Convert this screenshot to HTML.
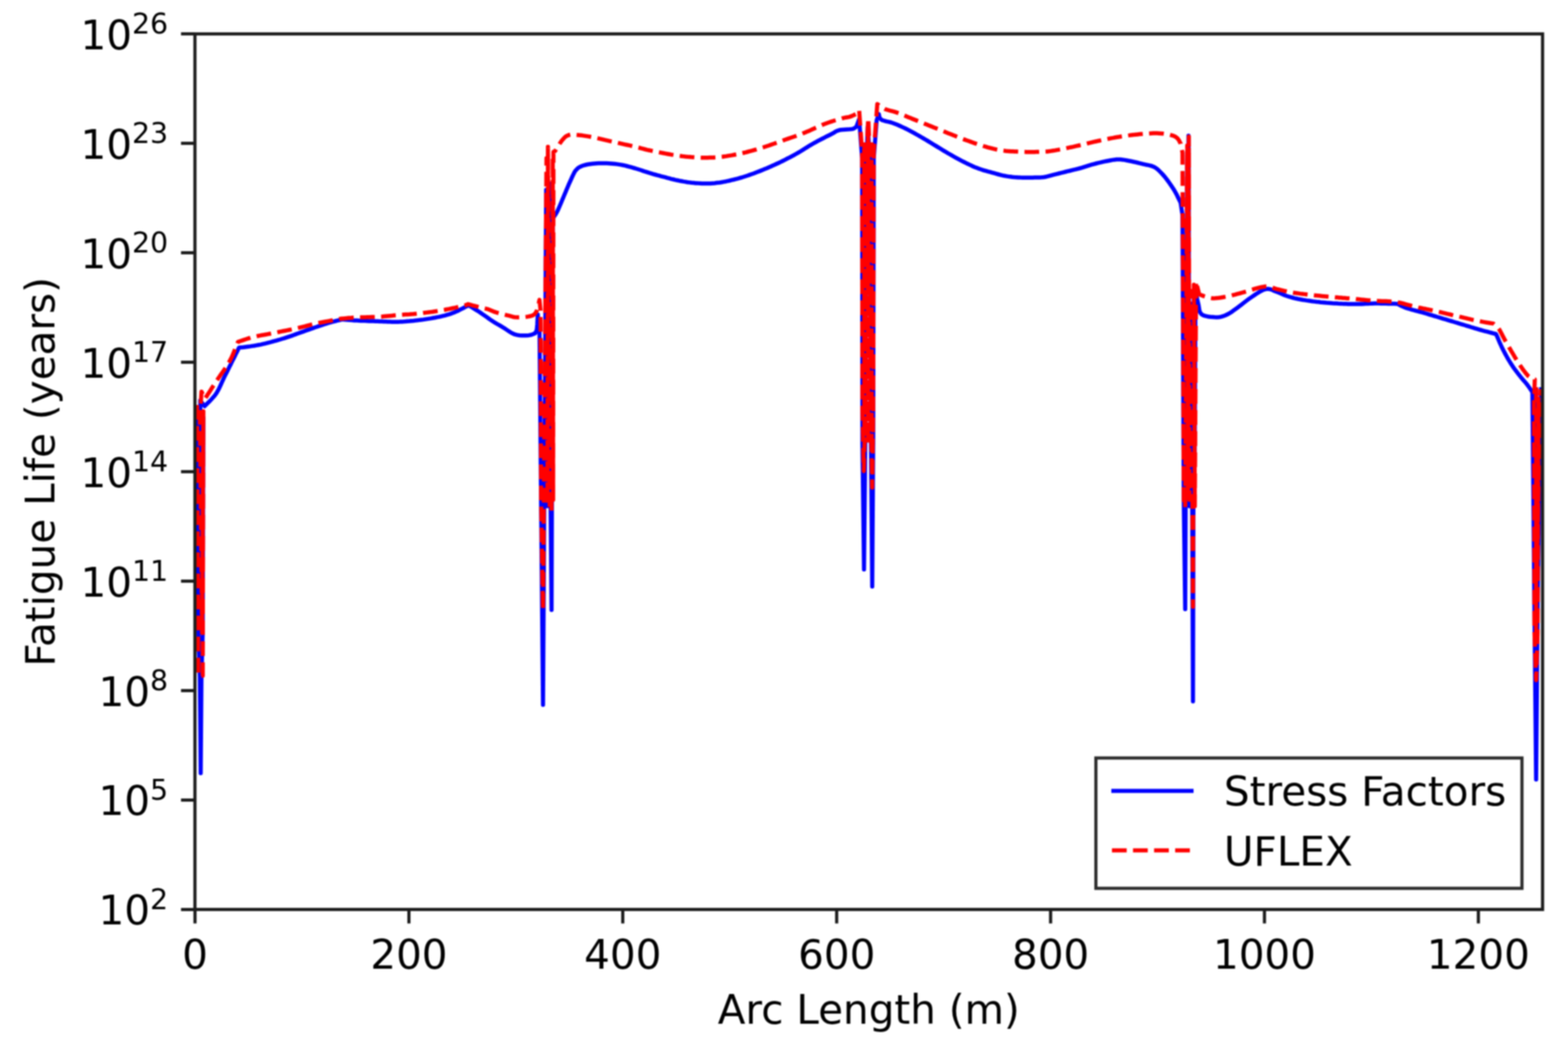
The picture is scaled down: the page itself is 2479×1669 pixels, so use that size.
<!DOCTYPE html>
<html><head><meta charset="utf-8"><title>Fatigue Life vs Arc Length</title>
<style>html,body{margin:0;padding:0;background:#fff;overflow:hidden}svg{display:block;filter:blur(1px)}</style>
</head><body>
<svg width="2479" height="1669" viewBox="0 0 2479 1669"><rect x="0" y="0" width="2479" height="1669" fill="#fff"/>
<defs><clipPath id="c"><rect x="308.2" y="53.6" width="2130.6000000000004" height="1383.8000000000002"/></clipPath></defs>
<g clip-path="url(#c)" fill="none" stroke-linejoin="round">
<polyline points="311.5,645.0 313.5,1000.0 316.0,1070.0 317.3,1222.0 318.5,1070.0 320.5,1000.0 321.5,660.0 319.0,1000.0 316.6,633.0 323.5,642.0 324.9,640.5 326.8,638.6 329.1,636.4 331.7,633.9 334.3,631.1 336.9,628.2 339.4,625.3 341.5,622.4 343.2,619.7 344.8,616.9 346.3,614.0 347.8,610.9 349.2,607.8 350.6,604.7 352.0,601.7 353.3,598.7 354.7,595.9 356.2,592.8 357.7,589.9 359.2,587.0 360.6,584.1 362.0,581.3 363.4,578.4 364.9,575.6 366.3,572.7 367.8,569.6 369.5,566.4 371.2,563.0 372.8,559.7 374.4,556.5 375.8,553.7 377.0,551.3 377.9,549.5 379.8,549.3 382.4,549.1 385.6,548.7 389.1,548.3 392.9,547.8 395.7,547.4 398.6,546.9 401.7,546.5 405.0,545.9 408.4,545.3 412.1,544.6 416.0,543.7 418.6,543.1 421.4,542.4 424.3,541.6 427.3,540.9 430.4,540.0 433.5,539.2 436.7,538.3 439.9,537.4 443.0,536.5 446.1,535.5 449.2,534.6 452.2,533.6 455.2,532.6 458.3,531.6 461.3,530.6 464.3,529.5 467.3,528.4 470.3,527.3 473.3,526.2 476.4,525.1 479.4,524.1 482.4,523.0 485.4,521.9 488.5,520.9 491.7,519.7 494.8,518.6 497.9,517.5 501.1,516.5 504.1,515.4 507.1,514.4 510.1,513.4 512.9,512.5 515.6,511.6 519.3,510.5 523.1,509.4 526.7,508.4 530.3,507.5 533.5,506.7 536.5,506.0 538.9,505.4 540.8,504.9 542.8,505.1 545.5,505.3 548.6,505.5 552.2,505.8 556.1,506.1 560.2,506.4 564.4,506.6 567.2,506.7 570.2,506.9 573.4,507.0 576.7,507.1 580.1,507.2 583.6,507.4 587.0,507.5 590.4,507.6 593.7,507.7 597.0,507.8 600.0,507.9 603.5,508.0 606.9,508.2 610.1,508.3 613.2,508.5 616.3,508.6 619.5,508.7 622.6,508.8 625.9,508.8 629.3,508.7 632.2,508.6 635.1,508.4 638.1,508.3 641.2,508.1 644.2,507.8 647.3,507.6 650.4,507.3 653.6,507.0 656.7,506.6 659.7,506.3 662.8,505.9 665.9,505.5 669.0,505.1 672.2,504.6 675.5,504.1 678.7,503.6 681.8,503.1 684.9,502.5 688.0,502.0 690.9,501.4 693.7,500.9 696.3,500.3 700.1,499.4 703.5,498.6 706.6,497.7 709.6,496.8 712.6,495.9 715.5,494.8 718.6,493.6 721.5,492.3 724.7,490.9 727.9,489.2 731.1,487.6 734.2,486.0 736.9,484.5 739.2,483.3 740.9,482.4 742.6,483.5 745.0,485.0 747.8,486.7 750.9,488.7 754.1,490.7 757.2,492.6 760.0,494.5 762.6,496.3 765.2,498.1 767.8,499.9 770.3,501.7 772.8,503.5 775.4,505.3 777.9,507.0 780.9,508.9 783.8,510.7 786.8,512.5 789.8,514.2 792.7,515.9 795.7,517.7 798.7,519.6 801.7,521.6 804.6,523.6 807.6,525.5 810.6,527.1 813.6,528.4 817.3,529.4 821.0,530.0 824.7,530.2 828.2,530.2 831.4,530.2 836.0,529.9 839.8,529.2 843.0,528.0 846.3,526.5 848.4,522.1 848.8,519.7 849.1,516.6 849.4,513.0 849.6,509.2 849.8,505.5 850.0,502.0 850.1,499.2 850.2,497.1 853.0,525.0 855.5,800.0 858.5,1114.0 863.5,300.0 865.5,800.0 869.5,290.0 870.5,800.0 872.0,964.0 874.0,345.4 875.2,343.7 876.8,341.3 878.8,338.2 881.0,334.2 882.2,331.8 883.4,329.0 884.7,326.0 886.1,322.7 887.5,319.4 888.9,316.1 890.3,312.8 891.6,309.6 892.9,306.5 894.3,303.3 895.6,300.0 897.0,296.8 898.3,293.7 899.6,290.6 900.9,287.8 902.1,285.1 903.6,281.8 905.0,278.7 906.4,275.9 907.7,273.3 909.0,270.9 910.5,268.9 913.4,265.9 916.4,263.9 920.2,262.3 923.0,261.3 926.1,260.5 929.5,259.8 933.2,259.2 937.0,258.7 939.9,258.4 943.0,258.2 946.2,258.1 949.5,258.0 952.8,258.0 956.1,258.0 959.3,258.1 962.5,258.2 965.7,258.4 968.9,258.7 972.0,259.0 975.2,259.4 978.4,259.9 981.6,260.4 984.8,261.0 988.0,261.7 991.2,262.5 994.4,263.3 997.6,264.2 1000.8,265.1 1004.0,266.0 1007.2,267.0 1010.4,268.0 1013.6,269.0 1016.7,270.1 1019.9,271.2 1023.1,272.2 1026.3,273.2 1029.5,274.1 1032.7,275.1 1035.9,276.0 1039.0,276.8 1042.2,277.7 1045.4,278.6 1048.6,279.4 1051.8,280.2 1055.0,281.1 1058.2,281.9 1061.4,282.8 1064.6,283.5 1067.8,284.3 1071.0,285.0 1074.2,285.7 1077.4,286.3 1080.6,286.9 1083.7,287.4 1086.9,288.0 1090.1,288.4 1093.3,288.8 1096.6,289.1 1099.9,289.4 1103.3,289.6 1106.6,289.7 1109.8,289.9 1112.8,289.9 1115.6,290.0 1119.7,290.0 1123.1,289.9 1126.3,289.7 1130.0,289.4 1132.7,289.1 1135.3,288.8 1138.1,288.5 1141.1,288.0 1144.3,287.4 1147.9,286.7 1150.6,286.1 1153.4,285.5 1156.5,284.7 1159.6,284.0 1162.9,283.1 1166.1,282.3 1169.4,281.4 1172.6,280.5 1175.8,279.5 1178.9,278.5 1182.0,277.5 1185.1,276.4 1188.2,275.3 1191.3,274.2 1194.4,273.0 1197.5,271.8 1200.6,270.6 1203.7,269.4 1206.5,268.3 1209.3,267.1 1212.1,266.0 1214.9,264.8 1217.7,263.6 1220.4,262.3 1223.2,261.1 1226.0,259.8 1228.8,258.5 1231.6,257.2 1234.4,255.9 1237.2,254.5 1240.0,253.1 1242.8,251.7 1245.5,250.2 1248.3,248.8 1251.1,247.3 1253.9,245.8 1256.7,244.3 1259.5,242.7 1262.3,241.1 1265.1,239.5 1267.9,237.8 1270.7,236.0 1273.4,234.3 1276.2,232.6 1279.0,230.8 1281.8,229.1 1284.6,227.5 1287.4,225.9 1290.3,224.3 1293.3,222.7 1296.3,221.1 1299.4,219.5 1302.5,218.0 1305.4,216.4 1308.2,215.0 1310.9,213.7 1313.3,212.5 1315.4,211.4 1319.1,209.3 1321.3,207.8 1323.3,206.8 1326.5,205.8 1329.2,205.3 1332.5,205.0 1336.1,204.7 1339.8,204.5 1343.3,204.3 1346.4,204.0 1348.8,203.6 1353.0,201.2 1354.4,199.1 1358.3,188.3 1363.0,250.0 1363.5,700.0 1366.0,900.0 1368.0,700.0 1370.0,250.0 1372.0,200.0 1375.0,250.0 1377.0,700.0 1379.0,927.0 1380.5,700.0 1381.4,250.0 1386.0,190.0 1389.4,180.3 1389.9,182.7 1390.7,186.1 1393.3,189.1 1395.6,190.2 1398.4,191.0 1401.6,191.8 1405.2,192.6 1408.8,193.5 1412.3,194.7 1414.9,195.7 1417.7,196.8 1420.5,198.0 1423.3,199.3 1426.2,200.6 1429.0,201.9 1431.9,203.3 1434.7,204.7 1437.5,206.1 1440.3,207.6 1443.1,209.1 1445.9,210.6 1448.6,212.2 1451.4,213.8 1454.2,215.4 1457.0,217.0 1459.8,218.6 1462.6,220.3 1465.4,221.9 1468.2,223.6 1470.9,225.3 1473.7,227.0 1476.5,228.7 1479.3,230.4 1482.1,232.1 1484.9,233.8 1487.7,235.5 1490.4,237.2 1493.2,238.9 1496.0,240.5 1498.8,242.2 1501.6,243.8 1504.4,245.4 1507.2,247.0 1510.0,248.6 1512.8,250.1 1515.6,251.6 1518.4,253.1 1521.2,254.6 1524.0,256.0 1526.8,257.4 1529.6,258.8 1532.4,260.1 1535.2,261.4 1537.9,262.7 1540.7,263.9 1543.5,265.0 1546.3,266.1 1549.5,267.2 1552.7,268.3 1555.9,269.3 1559.0,270.2 1562.2,271.1 1565.4,271.9 1568.6,272.8 1571.8,273.7 1575.0,274.6 1578.2,275.5 1581.3,276.3 1584.5,277.1 1587.7,277.8 1590.9,278.4 1594.1,278.9 1597.3,279.3 1600.5,279.7 1603.7,280.0 1606.9,280.2 1610.1,280.4 1613.3,280.6 1616.6,280.7 1619.9,280.8 1623.3,280.8 1626.6,280.8 1629.8,280.7 1632.8,280.7 1635.6,280.6 1639.8,280.5 1643.4,280.5 1646.7,280.3 1650.0,280.0 1653.0,279.5 1655.6,278.9 1658.6,278.1 1662.3,277.1 1665.0,276.4 1668.0,275.7 1671.2,274.9 1674.6,274.0 1678.0,273.2 1681.4,272.3 1684.7,271.5 1687.9,270.7 1691.1,270.0 1694.3,269.2 1697.4,268.4 1700.6,267.7 1703.8,266.8 1707.0,266.0 1710.2,265.1 1713.4,264.1 1716.6,263.1 1719.7,262.1 1722.9,261.1 1726.1,260.2 1729.3,259.3 1732.5,258.5 1735.8,257.6 1739.1,256.9 1742.4,256.1 1745.6,255.4 1748.7,254.8 1751.6,254.2 1755.3,253.5 1758.7,252.9 1762.0,252.4 1765.1,252.1 1768.4,252.0 1771.7,252.1 1774.8,252.4 1778.0,252.9 1781.4,253.5 1785.1,254.2 1788.0,254.8 1791.2,255.5 1794.6,256.2 1797.9,257.0 1801.3,257.8 1804.5,258.6 1807.4,259.3 1811.2,260.2 1814.8,260.9 1818.1,261.6 1821.3,262.5 1824.2,263.7 1827.4,265.5 1830.2,267.6 1832.7,270.0 1835.4,272.7 1837.6,275.0 1839.8,277.5 1842.1,280.2 1844.3,283.0 1846.5,286.0 1848.4,288.6 1850.3,291.3 1852.2,294.1 1854.1,297.0 1856.0,299.9 1857.7,302.8 1859.4,305.9 1861.2,309.3 1862.8,312.8 1864.4,316.0 1865.7,318.7 1866.6,320.7 1869.5,340.0 1871.5,790.0 1873.8,962.8 1877.0,240.0 1878.0,790.0 1879.0,214.5 1880.5,800.0 1883.5,480.0 1886.1,1108.4 1887.5,470.0 1888.5,800.0 1890.0,470.0 1891.3,465.2 1891.7,467.2 1892.2,470.0 1892.9,473.4 1893.7,476.8 1894.5,480.2 1895.2,483.6 1895.7,487.4 1896.4,491.1 1897.7,494.4 1900.0,497.0 1902.5,498.4 1905.6,499.4 1909.2,500.2 1913.0,500.8 1916.8,501.1 1920.3,501.3 1923.5,501.4 1927.3,501.2 1930.7,500.6 1933.8,499.7 1937.0,498.5 1940.2,497.0 1942.9,495.6 1945.6,494.0 1948.3,492.2 1951.0,490.2 1953.9,488.1 1957.0,485.8 1959.2,484.2 1961.6,482.4 1964.0,480.5 1966.5,478.5 1969.1,476.5 1971.7,474.5 1974.2,472.6 1976.8,470.8 1979.3,469.1 1982.1,467.2 1985.0,465.3 1987.9,463.4 1990.8,461.6 1993.6,460.0 1996.4,458.6 1999.1,457.5 2001.6,456.8 2005.3,456.6 2008.7,457.3 2012.0,458.5 2015.1,460.0 2018.4,461.3 2021.7,462.5 2024.8,463.9 2028.0,465.3 2031.4,466.7 2035.1,468.0 2037.9,468.9 2040.7,469.7 2043.7,470.5 2046.8,471.3 2050.0,472.0 2053.6,472.8 2057.4,473.5 2060.0,474.0 2062.8,474.4 2065.8,474.9 2068.8,475.3 2071.9,475.7 2075.1,476.2 2078.3,476.6 2081.5,477.0 2084.8,477.3 2087.9,477.7 2091.0,478.0 2094.1,478.3 2097.2,478.6 2100.3,478.8 2103.5,479.0 2106.6,479.3 2109.8,479.5 2112.8,479.6 2115.9,479.8 2118.8,479.9 2121.7,480.1 2124.4,480.2 2128.0,480.3 2131.4,480.4 2134.7,480.5 2137.8,480.5 2140.9,480.6 2143.9,480.6 2147.0,480.5 2150.0,480.5 2153.4,480.4 2156.5,480.3 2159.6,480.1 2162.7,479.9 2166.0,479.8 2169.5,479.7 2173.5,479.6 2176.4,479.6 2179.7,479.6 2183.3,479.7 2187.1,479.7 2190.9,479.8 2194.7,479.9 2198.3,480.0 2201.7,480.0 2204.7,480.1 2207.2,480.2 2209.2,480.2 2211.0,481.1 2213.3,482.3 2216.2,483.8 2219.7,485.4 2223.7,486.9 2226.2,487.7 2228.9,488.5 2231.8,489.3 2234.9,490.2 2238.1,491.0 2241.4,491.9 2244.8,492.8 2248.2,493.7 2251.6,494.7 2254.4,495.5 2257.4,496.4 2260.3,497.3 2263.4,498.2 2266.4,499.1 2269.6,500.0 2272.7,501.0 2275.8,501.9 2278.9,502.8 2282.0,503.8 2285.1,504.7 2288.2,505.6 2291.3,506.6 2294.5,507.5 2297.8,508.5 2301.0,509.5 2304.1,510.4 2307.2,511.4 2310.3,512.3 2313.2,513.2 2316.0,514.0 2318.6,514.8 2322.4,515.9 2325.7,517.0 2328.8,517.9 2331.8,518.8 2334.7,519.7 2337.7,520.6 2340.9,521.5 2344.0,522.4 2347.4,523.3 2351.0,524.2 2354.5,525.2 2357.8,526.0 2360.9,526.8 2363.4,527.5 2365.3,528.0 2366.1,529.8 2367.1,532.1 2368.3,534.9 2369.6,538.1 2371.0,541.4 2372.5,544.7 2374.0,548.0 2375.5,551.0 2377.0,553.9 2378.5,556.9 2380.1,559.9 2381.7,562.8 2383.4,565.8 2385.0,568.6 2386.7,571.4 2388.3,574.0 2390.1,576.8 2391.9,579.5 2393.7,582.1 2395.6,584.6 2397.4,587.0 2399.2,589.4 2401.0,591.8 2403.2,594.5 2405.4,597.2 2407.6,599.8 2409.8,602.3 2411.9,604.7 2413.8,607.1 2416.0,610.0 2418.1,613.0 2420.0,615.8 2421.6,618.2 2422.7,619.9 2425.3,900.0 2428.6,1232.0 2431.5,900.0 2433.0,640.0 2431.0,950.0 2436.5,612.0" stroke="#0000ff" stroke-width="6.5" stroke-linecap="butt"/>
<polyline points="2428.6,612.0 2428.6,1100.0" stroke="#0000ff" stroke-width="6.5" stroke-linecap="butt"/>
<polyline points="1366.5,240.0 1366.5,740.0" stroke="#0000ff" stroke-width="6.5" stroke-linecap="butt"/>
<polyline points="1378.2,240.0 1378.2,760.0" stroke="#0000ff" stroke-width="6.5" stroke-linecap="butt"/>
<polyline points="311.5,640.0 313.5,1068.0 320.5,1068.0 321.5,650.0 319.5,1000.0 316.0,660.0 318.6,619.0 324.1,630.2 325.1,628.6 326.4,626.7 327.9,624.3 329.6,621.7 331.4,618.9 333.3,615.9 335.3,612.8 337.3,609.7 339.3,606.7 341.3,603.7 343.1,600.9 344.9,598.2 346.8,595.5 348.6,592.8 350.5,590.1 352.5,587.4 354.4,584.7 356.2,581.9 358.0,579.2 359.8,576.5 361.4,573.7 363.0,571.0 364.5,568.1 366.0,565.1 367.5,561.9 368.9,558.6 370.2,555.4 371.5,552.3 372.7,549.3 373.8,546.6 374.8,544.1 375.6,542.0 376.3,540.4 378.0,539.8 380.2,539.0 382.9,538.1 385.8,537.1 389.1,536.0 392.5,534.9 396.0,533.8 399.5,532.9 402.1,532.3 404.9,531.6 407.8,531.0 410.8,530.4 413.9,529.8 417.0,529.3 420.1,528.7 423.3,528.1 426.4,527.5 429.5,526.9 432.6,526.3 435.6,525.7 438.6,525.1 441.6,524.5 444.7,523.9 447.7,523.3 450.7,522.7 453.7,522.1 456.7,521.5 459.8,520.9 462.8,520.3 465.8,519.6 468.9,518.9 472.0,518.2 475.3,517.4 478.5,516.6 481.7,515.8 484.9,515.0 488.0,514.2 491.0,513.4 493.9,512.7 496.6,512.1 499.0,511.5 502.8,510.6 505.9,510.0 508.6,509.5 511.1,509.0 513.8,508.5 517.0,507.9 519.9,507.4 523.1,506.8 526.5,506.1 530.0,505.5 533.4,504.9 536.4,504.3 538.9,503.8 540.8,503.5 542.6,503.4 544.9,503.2 547.7,502.9 550.8,502.6 554.3,502.4 558.2,502.1 562.3,501.9 564.9,501.8 567.7,501.7 570.8,501.6 574.0,501.5 577.3,501.4 580.7,501.3 584.1,501.2 587.5,501.1 590.8,501.0 594.0,500.9 597.1,500.8 600.0,500.6 603.6,500.4 607.0,500.1 610.2,499.8 613.4,499.5 616.5,499.2 619.5,498.9 622.7,498.6 625.9,498.3 629.3,498.0 632.2,497.8 635.1,497.5 638.1,497.3 641.2,497.1 644.2,496.9 647.3,496.7 650.4,496.4 653.6,496.2 656.7,495.9 659.7,495.6 662.8,495.3 665.8,495.0 668.9,494.6 671.9,494.3 675.0,493.9 678.0,493.5 681.1,493.1 684.1,492.7 687.2,492.2 690.2,491.8 693.3,491.3 696.3,490.8 699.4,490.3 702.7,489.7 706.1,489.0 709.5,488.4 712.9,487.7 716.2,487.0 719.3,486.4 722.4,485.7 725.1,485.1 727.6,484.6 729.8,484.1 735.2,482.6 738.1,481.5 739.8,480.7 741.7,481.2 744.4,481.9 747.6,482.8 751.0,483.7 754.6,484.6 757.9,485.5 760.9,486.3 763.3,486.9 768.1,487.9 771.6,488.7 774.2,489.7 777.1,490.9 780.3,492.3 784.1,493.6 786.7,494.4 789.6,495.2 792.7,496.0 796.0,496.8 799.1,497.6 802.0,498.3 804.6,498.9 808.1,499.9 810.8,500.7 813.6,501.3 817.1,501.6 820.2,501.6 823.8,501.5 827.6,501.3 831.3,500.9 834.8,500.4 837.7,499.8 841.9,498.6 845.0,496.8 847.5,493.6 848.7,490.9 849.8,487.3 850.8,483.4 851.7,479.5 852.4,476.2 852.9,473.9 854.6,490.0 855.5,790.0 858.5,964.0 864.0,250.0 865.5,795.0 866.3,232.0 869.0,800.0 872.0,808.6 873.9,249.0 874.5,790.0 875.0,240.0 877.7,238.7 878.9,236.7 880.7,233.8 882.7,230.5 884.9,227.0 887.1,223.8 889.0,221.3 891.5,218.5 893.7,216.3 896.1,214.7 899.0,213.5 901.7,212.9 904.6,212.8 907.7,212.9 911.0,213.2 914.7,213.5 917.5,213.8 920.6,214.1 923.8,214.6 927.1,215.1 930.4,215.6 933.8,216.2 937.0,216.8 940.2,217.4 943.4,218.1 946.6,218.9 949.7,219.6 952.9,220.4 956.1,221.2 959.3,221.9 962.5,222.6 965.7,223.3 968.9,224.0 972.0,224.8 975.2,225.5 978.4,226.2 981.6,226.9 984.8,227.6 988.0,228.3 991.2,229.0 994.4,229.7 997.6,230.4 1000.8,231.2 1004.0,231.9 1007.2,232.7 1010.4,233.5 1013.6,234.3 1016.7,235.1 1019.9,236.0 1023.1,236.8 1026.3,237.5 1029.5,238.2 1032.7,238.9 1035.9,239.5 1039.0,240.2 1042.2,240.8 1045.4,241.4 1048.6,242.0 1051.8,242.6 1055.0,243.2 1058.2,243.8 1061.4,244.4 1064.6,244.9 1067.8,245.4 1071.0,245.9 1074.2,246.3 1077.4,246.7 1080.6,247.1 1083.7,247.5 1086.9,247.8 1090.1,248.0 1093.3,248.3 1096.4,248.5 1099.5,248.7 1102.6,248.9 1105.7,249.1 1108.9,249.2 1112.2,249.2 1115.6,249.2 1118.7,249.2 1121.8,249.1 1125.0,249.0 1128.2,248.9 1131.6,248.7 1135.0,248.5 1138.6,248.1 1142.3,247.7 1145.1,247.3 1148.0,246.9 1150.9,246.4 1154.0,245.9 1157.1,245.4 1160.2,244.8 1163.3,244.2 1166.5,243.6 1169.6,242.9 1172.7,242.2 1175.8,241.5 1178.8,240.8 1181.9,240.0 1184.9,239.2 1188.0,238.4 1191.0,237.5 1194.1,236.7 1197.1,235.8 1200.2,234.8 1203.2,233.9 1206.3,233.0 1209.3,232.0 1212.4,231.0 1215.5,230.0 1218.6,228.9 1221.7,227.8 1224.8,226.7 1228.0,225.6 1231.0,224.5 1234.1,223.4 1237.0,222.4 1240.0,221.3 1242.8,220.3 1246.1,219.1 1249.3,218.0 1252.3,217.0 1255.3,216.0 1258.2,215.0 1261.2,213.9 1264.2,212.8 1267.4,211.6 1270.7,210.3 1273.3,209.2 1276.0,208.1 1278.8,206.9 1281.7,205.6 1284.5,204.3 1287.5,203.0 1290.4,201.7 1293.2,200.4 1296.1,199.1 1298.9,198.0 1301.6,196.8 1304.2,195.8 1307.6,194.5 1311.1,193.3 1314.5,192.1 1317.9,191.0 1321.2,190.0 1324.2,189.1 1327.1,188.2 1329.8,187.5 1332.1,186.8 1337.1,185.7 1340.2,185.3 1343.3,184.6 1347.3,183.1 1351.2,181.3 1354.0,180.0 1358.3,173.9 1363.0,240.0 1363.5,650.0 1365.7,744.5 1368.0,650.0 1370.0,240.0 1372.7,186.7 1375.0,240.0 1377.0,650.0 1378.9,770.4 1380.5,650.0 1381.4,240.0 1387.0,164.4 1390.0,166.7 1391.9,168.2 1394.9,170.2 1398.9,172.3 1401.4,173.2 1404.2,174.0 1407.2,174.8 1410.5,175.6 1414.1,176.6 1417.9,177.9 1420.3,178.8 1422.8,179.7 1425.4,180.8 1428.2,181.9 1430.9,183.0 1433.8,184.2 1436.7,185.4 1439.7,186.6 1442.7,187.9 1445.8,189.1 1448.4,190.1 1451.1,191.2 1453.8,192.3 1456.6,193.4 1459.4,194.5 1462.2,195.7 1465.1,196.8 1467.9,198.0 1470.8,199.1 1473.7,200.2 1476.5,201.4 1479.3,202.5 1482.1,203.6 1484.9,204.7 1487.7,205.9 1490.5,207.0 1493.3,208.1 1496.0,209.3 1498.8,210.4 1501.6,211.5 1504.4,212.6 1507.2,213.7 1510.0,214.8 1512.8,215.9 1515.8,217.1 1518.9,218.2 1521.9,219.4 1525.0,220.6 1528.0,221.7 1531.1,222.8 1534.1,223.9 1537.2,225.0 1540.2,226.1 1543.3,227.1 1546.3,228.1 1549.3,229.1 1552.4,230.0 1555.4,231.0 1558.5,231.9 1561.5,232.8 1564.6,233.6 1567.6,234.4 1570.7,235.2 1573.7,235.9 1576.8,236.5 1579.8,237.1 1582.8,237.6 1585.9,238.0 1588.9,238.4 1592.0,238.7 1595.0,238.9 1598.1,239.2 1601.1,239.3 1604.2,239.5 1607.2,239.6 1610.3,239.8 1613.3,239.9 1616.4,240.0 1619.6,240.1 1622.8,240.2 1626.1,240.2 1629.3,240.2 1632.6,240.2 1635.7,240.2 1638.7,240.1 1641.6,240.1 1644.3,240.0 1646.8,239.9 1650.6,239.7 1653.6,239.6 1656.3,239.4 1658.9,239.1 1661.9,238.6 1665.7,238.0 1668.2,237.6 1670.9,237.1 1673.8,236.6 1676.8,236.0 1679.9,235.4 1683.2,234.8 1686.4,234.1 1689.7,233.4 1692.9,232.7 1696.1,232.1 1699.2,231.4 1702.2,230.7 1705.3,230.0 1708.3,229.3 1711.4,228.6 1714.4,227.8 1717.5,227.1 1720.5,226.3 1723.6,225.6 1726.6,224.9 1729.7,224.2 1732.7,223.5 1735.7,222.8 1738.8,222.2 1741.8,221.5 1744.9,220.9 1747.9,220.2 1751.0,219.6 1754.0,219.0 1757.1,218.4 1760.1,217.9 1763.1,217.3 1766.1,216.8 1769.4,216.3 1772.6,215.7 1775.9,215.2 1779.1,214.7 1782.3,214.3 1785.5,213.9 1788.7,213.4 1792.0,213.1 1795.2,212.7 1798.5,212.4 1801.5,212.1 1804.6,211.8 1807.8,211.6 1810.9,211.3 1814.1,211.1 1817.2,210.9 1820.3,210.7 1823.4,210.6 1826.4,210.6 1829.2,210.6 1832.0,210.7 1835.7,211.0 1839.4,211.3 1842.9,211.8 1846.4,212.4 1849.6,213.1 1852.6,213.9 1855.3,214.7 1857.7,215.7 1861.3,218.3 1863.8,221.6 1865.4,224.7 1866.6,226.9 1869.5,241.4 1871.5,790.0 1873.8,802.2 1877.0,230.0 1878.0,790.0 1879.5,216.0 1880.5,790.0 1883.5,460.0 1886.1,959.0 1887.5,450.0 1889.0,800.0 1891.0,445.3 1895.9,465.2 1898.0,466.0 1900.9,467.1 1904.3,468.4 1908.1,469.7 1912.0,470.7 1915.8,471.3 1918.6,471.4 1921.5,471.3 1924.5,471.1 1927.5,470.7 1930.6,470.3 1933.7,469.7 1937.0,469.1 1940.2,468.5 1943.2,467.9 1946.3,467.2 1949.4,466.4 1952.7,465.6 1955.9,464.7 1959.1,463.8 1962.2,463.0 1965.2,462.1 1968.1,461.3 1971.7,460.3 1975.1,459.2 1978.5,458.1 1981.7,457.1 1984.8,456.1 1987.8,455.3 1990.5,454.6 1994.7,453.7 1998.3,453.1 2001.6,452.8 2005.0,452.9 2008.2,453.5 2011.2,454.4 2014.5,455.6 2018.4,456.8 2021.1,457.5 2024.0,458.2 2027.0,458.9 2030.3,459.7 2033.7,460.4 2037.1,461.1 2040.7,461.8 2043.5,462.3 2046.4,462.8 2049.4,463.2 2052.4,463.6 2055.5,464.1 2058.7,464.5 2061.9,464.9 2065.2,465.3 2068.6,465.7 2071.4,466.0 2074.4,466.4 2077.3,466.7 2080.4,467.0 2083.4,467.3 2086.6,467.6 2089.7,467.9 2092.8,468.2 2095.9,468.5 2099.0,468.8 2102.1,469.1 2105.1,469.4 2108.2,469.6 2111.2,469.9 2114.2,470.1 2117.2,470.4 2120.2,470.6 2123.3,470.9 2126.3,471.1 2129.4,471.4 2132.5,471.6 2135.6,471.9 2138.8,472.2 2142.0,472.5 2145.2,472.8 2148.4,473.1 2151.7,473.4 2154.9,473.7 2158.2,474.1 2161.5,474.4 2164.8,474.7 2168.0,474.9 2171.3,475.2 2174.6,475.4 2177.9,475.6 2181.2,475.7 2184.5,475.9 2187.8,476.0 2191.2,476.1 2194.4,476.3 2197.7,476.5 2200.8,476.7 2204.0,477.0 2207.0,477.4 2210.2,477.9 2213.4,478.5 2216.4,479.2 2219.4,480.0 2222.3,480.8 2225.2,481.6 2228.2,482.4 2231.1,483.2 2234.1,484.0 2237.1,484.7 2240.2,485.4 2243.2,486.1 2246.3,486.7 2249.4,487.4 2252.5,488.0 2255.7,488.7 2258.8,489.3 2262.0,490.0 2265.2,490.7 2268.4,491.4 2271.4,492.1 2274.4,492.8 2277.4,493.4 2280.4,494.2 2283.5,494.9 2286.5,495.6 2289.6,496.3 2292.7,497.0 2295.8,497.8 2298.8,498.5 2301.9,499.2 2305.0,499.9 2308.1,500.7 2311.3,501.4 2314.4,502.2 2317.6,502.9 2320.7,503.7 2323.8,504.4 2326.8,505.1 2329.8,505.8 2332.7,506.4 2335.4,507.0 2339.2,507.7 2343.0,508.4 2346.7,509.1 2350.3,509.7 2353.6,510.2 2356.6,510.7 2359.1,511.1 2361.0,511.4 2363.3,513.4 2366.4,516.3 2369.1,519.1 2371.0,521.7 2373.0,525.5 2374.1,527.5 2375.2,529.7 2376.5,532.2 2378.0,535.1 2379.8,538.3 2381.9,542.1 2383.1,544.3 2384.5,546.7 2386.0,549.3 2387.7,552.0 2389.3,554.9 2391.1,557.8 2392.8,560.7 2394.5,563.7 2396.3,566.5 2397.9,569.2 2399.5,571.7 2401.0,574.0 2403.1,577.2 2405.2,580.3 2407.2,583.2 2409.2,585.9 2411.1,588.4 2412.9,590.6 2414.7,592.7 2416.3,594.4 2420.5,597.4 2424.0,598.7 2426.5,599.5 2425.2,640.0 2426.0,1000.0 2428.6,1075.0 2431.0,1000.0 2432.3,630.0 2430.0,900.0 2435.5,615.0" stroke="#ff0000" stroke-width="6.5" stroke-dasharray="23.3 10" stroke-linecap="butt"/>
<polyline points="1366.5,225.0 1366.5,690.0 1366.3,235.0" stroke="#ff0000" stroke-width="6.5" stroke-dasharray="23.3 10" stroke-linecap="butt"/>
<polyline points="2428.6,612.0 2428.6,1000.0" stroke="#ff0000" stroke-width="6.5" stroke-dasharray="23.3 10" stroke-linecap="butt"/>
<polyline points="1372.4,210.0 1372.4,700.0 1372.2,220.0" stroke="#ff0000" stroke-width="6.5" stroke-dasharray="23.3 10" stroke-linecap="butt"/>
<polyline points="1378.2,225.0 1378.2,700.0 1378.0,235.0" stroke="#ff0000" stroke-width="6.5" stroke-dasharray="23.3 10" stroke-linecap="butt"/>
</g>
<rect x="308.2" y="53.6" width="2130.6000000000004" height="1383.8000000000002" fill="none" stroke="#1c1c1c" stroke-width="5" stroke-linejoin="miter"/>
<path d="M286.2,1437.4H308.2 M286.2,1264.4H308.2 M286.2,1091.5H308.2 M286.2,918.5H308.2 M286.2,745.5H308.2 M286.2,572.5H308.2 M286.2,399.5H308.2 M286.2,226.6H308.2 M286.2,53.6H308.2 M308.3,1437.4V1459.4 M646.5,1437.4V1459.4 M984.6,1437.4V1459.4 M1322.8,1437.4V1459.4 M1661.0,1437.4V1459.4 M1999.1,1437.4V1459.4 M2337.3,1437.4V1459.4" stroke="#1c1c1c" stroke-width="5" fill="none"/>
<g font-family="DejaVu Sans, Liberation Sans, sans-serif" font-size="64" fill="#000"><text x="265.8" y="1461.4" text-anchor="end"><tspan>10</tspan><tspan dy="-24.3" font-size="44.8">2</tspan></text><text x="265.8" y="1288.4" text-anchor="end"><tspan>10</tspan><tspan dy="-24.3" font-size="44.8">5</tspan></text><text x="265.8" y="1115.5" text-anchor="end"><tspan>10</tspan><tspan dy="-24.3" font-size="44.8">8</tspan></text><text x="265.8" y="942.5" text-anchor="end"><tspan>10</tspan><tspan dy="-24.3" font-size="44.8">11</tspan></text><text x="265.8" y="769.5" text-anchor="end"><tspan>10</tspan><tspan dy="-24.3" font-size="44.8">14</tspan></text><text x="265.8" y="596.5" text-anchor="end"><tspan>10</tspan><tspan dy="-24.3" font-size="44.8">17</tspan></text><text x="265.8" y="423.5" text-anchor="end"><tspan>10</tspan><tspan dy="-24.3" font-size="44.8">20</tspan></text><text x="265.8" y="250.6" text-anchor="end"><tspan>10</tspan><tspan dy="-24.3" font-size="44.8">23</tspan></text><text x="265.8" y="77.6" text-anchor="end"><tspan>10</tspan><tspan dy="-24.3" font-size="44.8">26</tspan></text></g>
<g font-family="DejaVu Sans, Liberation Sans, sans-serif" font-size="64" fill="#000"><text x="308.3" y="1531" text-anchor="middle">0</text><text x="646.5" y="1531" text-anchor="middle">200</text><text x="984.6" y="1531" text-anchor="middle">400</text><text x="1322.8" y="1531" text-anchor="middle">600</text><text x="1661.0" y="1531" text-anchor="middle">800</text><text x="1999.1" y="1531" text-anchor="middle">1000</text><text x="2337.3" y="1531" text-anchor="middle">1200</text></g>
<text x="1373.5" y="1618" text-anchor="middle" font-family="DejaVu Sans, Liberation Sans, sans-serif" font-size="64" fill="#000">Arc Length (m)</text>
<text transform="translate(86.4,745.7) rotate(-90)" x="0" y="0" text-anchor="middle" font-family="DejaVu Sans, Liberation Sans, sans-serif" font-size="64" fill="#000">Fatigue Life (years)</text>
<rect x="1732.6" y="1198" width="673.5999999999999" height="206" fill="#fff" stroke="#2b2b2b" stroke-width="5"/>
<path d="M1757,1250H1887" stroke="#0000ff" stroke-width="6.5"/>
<path d="M1758,1344H1887" stroke="#ff0000" stroke-width="6.5" stroke-dasharray="23.3 10"/>
<text x="1935" y="1273" font-family="DejaVu Sans, Liberation Sans, sans-serif" font-size="64" fill="#000">Stress Factors</text>
<text x="1935" y="1368" font-family="DejaVu Sans, Liberation Sans, sans-serif" font-size="64" fill="#000">UFLEX</text></svg>
</body></html>
